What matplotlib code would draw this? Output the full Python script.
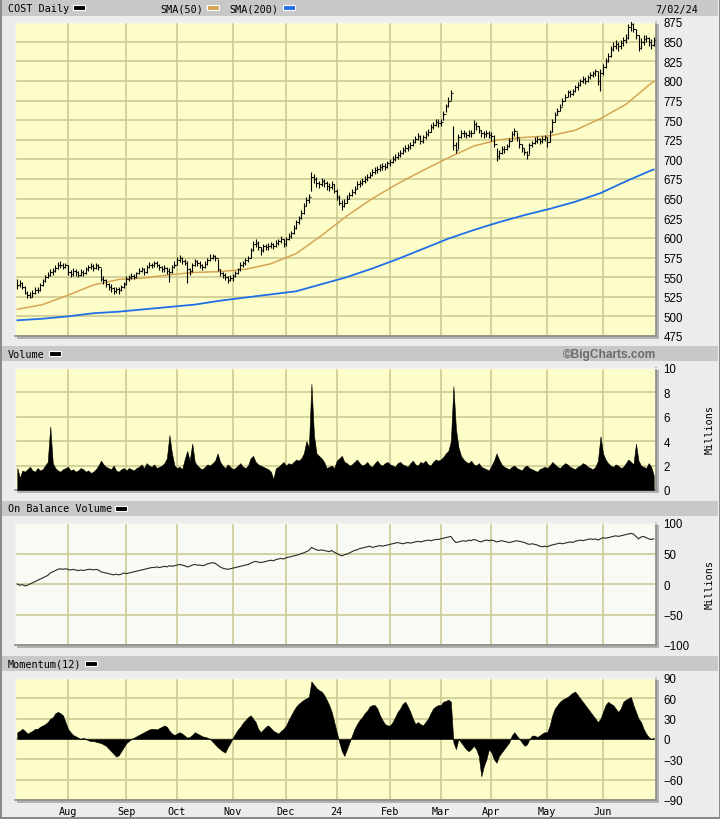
import numpy as np
import pandas as pd
import matplotlib
matplotlib.use("Agg")
import matplotlib.pyplot as plt
from matplotlib.collections import LineCollection
from matplotlib.patches import Rectangle

# ---------------- data ----------------
HOLIDAYS = ['2023-07-04', '2023-09-04', '2023-11-23', '2023-12-25', '2024-01-01',
            '2024-01-15', '2024-02-19', '2024-03-29', '2024-05-27', '2024-06-19']
START, END = '2023-07-03', '2024-07-02'

close_jul = [540, 543, 538, 530, 527, 525, 530, 534, 533, 540, 545, 550, 553, 556, 558, 562, 565, 566, 563, 565]
high_jul = [547, 546, 544, 539, 532, 531, 533, 537, 538, 542, 548, 553, 556, 560, 562, 565, 569, 570, 568, 568]
low_jul = [535, 537, 535, 528, 524, 523, 525, 529, 530, 532, 539, 544, 549, 551, 553, 556, 560, 561, 560, 561]

close_aug = [556, 554, 558, 556, 553, 557, 555, 560, 563, 564, 562, 565, 563, 548, 546, 541, 538, 536, 532, 535, 533, 538, 541]
high_aug = [566, 559, 561, 560, 558, 560, 559, 563, 566, 568, 567, 568, 567, 562, 551, 548, 543, 541, 538, 538, 538, 540, 544]
low_aug = [553, 550, 552, 552, 550, 552, 551, 554, 558, 560, 558, 560, 559, 545, 541, 537, 534, 531, 529, 530, 528, 532, 536]

close_sep = [548, 550, 552, 550, 555, 558, 560, 556, 563, 566, 565, 568, 566, 563, 560, 562, 558, 557, 563, 566]
high_sep = [551, 553, 555, 554, 557, 561, 563, 561, 566, 569, 568, 571, 570, 567, 564, 565, 563, 562, 566, 570]
low_sep = [540, 545, 548, 547, 549, 554, 556, 553, 555, 561, 561, 563, 563, 559, 556, 557, 554, 544, 555, 561]

close_oct = [572, 574, 571, 568, 560, 558, 565, 570, 568, 566, 563, 567, 572, 575, 577, 574, 560, 555, 553, 550, 546, 549]
high_oct = [576, 578, 576, 573, 570, 562, 568, 573, 572, 570, 567, 570, 575, 579, 580, 578, 573, 560, 557, 555, 551, 553]
low_oct = [565, 569, 567, 565, 542, 553, 556, 564, 564, 562, 559, 562, 566, 570, 573, 570, 558, 552, 549, 546, 542, 545]

close_nov = [552, 555, 560, 566, 568, 572, 574, 584, 592, 594, 588, 584, 590, 588, 590, 592, 590, 594, 596, 598, 592]
high_nov = [554, 558, 562, 569, 571, 574, 577, 587, 596, 598, 596, 589, 592, 592, 593, 595, 594, 597, 599, 602, 599]
low_nov = [545, 550, 554, 558, 563, 566, 569, 574, 583, 588, 585, 578, 582, 584, 585, 587, 586, 588, 591, 593, 589]

close_dec = [598, 603, 606, 612, 620, 625, 632, 640, 648, 652, 678, 675, 670, 668, 672, 670, 666, 665, 668, 660]
high_dec = [601, 606, 609, 616, 623, 628, 636, 644, 652, 656, 684, 682, 678, 673, 676, 675, 672, 670, 672, 668]
low_dec = [590, 597, 600, 605, 611, 618, 624, 631, 640, 645, 660, 670, 665, 663, 666, 665, 661, 660, 662, 657]

close_jan = [652, 645, 640, 645, 650, 655, 658, 662, 668, 670, 672, 675, 678, 680, 684, 686, 688, 690, 692, 690, 695]
high_jan = [662, 654, 648, 650, 654, 659, 662, 666, 672, 674, 676, 679, 682, 684, 688, 690, 692, 694, 696, 695, 698]
low_jan = [648, 642, 636, 639, 644, 650, 653, 656, 662, 665, 667, 670, 673, 676, 679, 681, 683, 685, 687, 686, 689]

close_feb = [697, 700, 703, 705, 708, 712, 714, 716, 718, 722, 726, 730, 723, 728, 732, 735, 741, 744, 747, 746]
high_feb = [701, 704, 707, 709, 712, 716, 718, 720, 722, 726, 730, 734, 731, 731, 736, 739, 745, 748, 751, 751]
low_feb = [692, 695, 698, 700, 703, 707, 709, 711, 713, 717, 721, 725, 719, 721, 726, 730, 735, 739, 742, 741]

close_mar = [748, 758, 768, 775, 785, 718, 712, 728, 734, 733, 731, 734, 733, 745, 742, 738, 733, 732, 733, 731]
high_mar = [752, 762, 771, 779, 789, 742, 722, 732, 738, 737, 735, 738, 737, 750, 748, 743, 738, 736, 737, 736]
low_mar = [743, 750, 760, 767, 776, 712, 708, 713, 727, 728, 727, 729, 728, 733, 738, 733, 728, 727, 728, 727]

close_apr = [730, 720, 704, 708, 713, 713, 717, 723, 732, 736, 728, 720, 715, 710, 705, 718, 721, 724, 726, 723, 726, 728]
high_apr = [735, 731, 715, 712, 717, 717, 720, 727, 736, 740, 735, 727, 720, 715, 711, 721, 724, 728, 730, 727, 730, 731]
low_apr = [724, 716, 698, 701, 707, 708, 712, 716, 724, 730, 724, 715, 710, 705, 700, 707, 716, 719, 721, 719, 721, 723]

close_may = [722, 735, 748, 757, 762, 767, 775, 780, 786, 783, 787, 792, 795, 800, 802, 800, 805, 808, 810, 812, 800, 810]
high_may = [728, 738, 751, 760, 766, 770, 778, 783, 789, 788, 790, 795, 798, 803, 806, 805, 808, 811, 813, 815, 812, 815]
low_may = [716, 722, 735, 748, 756, 762, 768, 774, 779, 779, 782, 786, 789, 794, 797, 796, 799, 803, 805, 806, 795, 787]

close_jun = [818, 825, 832, 840, 845, 847, 844, 848, 852, 855, 868, 872, 866, 858, 842, 850, 853, 855, 850]
high_jun = [822, 829, 836, 845, 850, 852, 849, 852, 856, 860, 873, 876, 874, 866, 858, 854, 858, 859, 856]
low_jun = [808, 817, 824, 831, 838, 841, 838, 841, 845, 848, 853, 864, 862, 853, 838, 841, 846, 849, 844]

close_jul24 = [846, 852]
high_jul24 = [853, 856]
low_jul24 = [840, 844]

# volume, millions of shares
vol_jul = [1.8, 1.0, 1.6, 1.5, 1.7, 1.9, 1.6, 1.5, 1.8, 1.6, 1.7, 2.0, 2.3, 5.2, 2.2, 1.8, 1.6, 1.5, 1.7, 1.8]
vol_aug = [1.9, 1.6, 1.7, 1.5, 1.6, 1.8, 1.7, 1.5, 1.6, 1.4, 1.5, 1.7, 2.0, 2.4, 2.1, 1.9, 1.8, 1.7, 2.0, 1.6, 1.5, 1.7, 1.8]
vol_sep = [1.6, 1.8, 1.7, 1.6, 1.8, 1.9, 2.1, 1.8, 2.2, 2.0, 1.9, 2.1, 1.8, 1.9, 2.0, 2.2, 2.6, 4.5, 3.0, 2.0]
vol_oct = [1.8, 1.9, 1.7, 2.5, 3.2, 2.4, 3.8, 2.3, 2.0, 1.8, 1.7, 1.9, 2.1, 2.0, 2.2, 2.4, 3.0, 2.3, 2.0, 1.8, 2.1, 1.9]
vol_nov = [1.7, 1.8, 2.0, 2.2, 1.9, 1.8, 2.0, 2.6, 2.8, 2.3, 2.1, 2.0, 1.9, 1.8, 1.7, 1.5, 0.9, 1.8, 1.9, 2.1, 2.3]
vol_dec = [2.0, 2.2, 2.1, 2.3, 2.5, 2.4, 2.6, 3.0, 4.0, 3.5, 8.7, 4.5, 3.0, 2.8, 2.6, 2.3, 1.8, 1.9, 2.0, 1.8]
vol_jan = [2.4, 2.6, 2.8, 2.3, 2.2, 2.0, 2.1, 2.3, 2.5, 2.2, 2.0, 2.1, 2.3, 2.0, 1.9, 2.2, 2.4, 2.1, 2.0, 2.2, 2.3]
vol_feb = [2.1, 2.0, 1.9, 2.2, 2.3, 2.1, 2.0, 1.9, 2.2, 2.4, 2.1, 2.0, 2.3, 2.2, 2.4, 2.1, 2.0, 2.3, 2.5, 2.4]
vol_mar = [2.5, 2.7, 3.0, 3.2, 4.0, 8.5, 5.0, 3.5, 2.8, 2.5, 2.3, 2.2, 2.4, 2.1, 2.0, 2.2, 1.9, 1.8, 1.7, 1.6]
vol_apr = [2.0, 2.4, 3.0, 2.5, 2.1, 1.9, 1.8, 1.7, 1.9, 2.0, 1.8, 1.7, 1.6, 1.9, 2.0, 1.8, 1.7, 1.6, 1.5, 1.7, 1.8, 1.9]
vol_may = [1.8, 2.0, 2.3, 2.1, 1.9, 1.8, 2.0, 2.2, 2.1, 1.9, 1.8, 1.7, 1.9, 2.0, 2.2, 2.1, 1.9, 1.8, 1.7, 1.9, 2.4, 4.4]
vol_jun = [3.0, 2.5, 2.2, 2.0, 1.9, 2.1, 2.0, 1.8, 1.9, 2.2, 2.5, 2.3, 2.1, 3.8, 2.4, 2.0, 1.9, 1.8, 2.2]
vol_jul24 = [1.9, 1.2]

# on balance volume, millions
obv_jul = [0, -2, -1, -3, -2, 0, 2, 4, 6, 8, 10, 12, 14, 18, 20, 22, 24, 25, 24, 25]
obv_aug = [24, 23, 24, 23, 22, 23, 22, 23, 24, 24, 23, 24, 23, 20, 19, 18, 17, 16, 15, 16, 15, 16, 18]
obv_sep = [17, 18, 19, 20, 21, 22, 23, 24, 25, 26, 27, 27, 28, 27, 28, 29, 28, 30, 29, 30]
obv_oct = [31, 32, 31, 30, 28, 29, 31, 32, 31, 31, 30, 31, 33, 34, 35, 34, 31, 28, 26, 25, 24, 25]
obv_nov = [26, 27, 28, 29, 30, 31, 32, 34, 36, 37, 36, 35, 36, 37, 38, 39, 38, 40, 41, 42, 41]
obv_dec = [43, 44, 45, 46, 47, 48, 50, 51, 53, 55, 60, 58, 56, 55, 56, 55, 54, 53, 55, 52]
obv_jan = [50, 48, 46, 48, 49, 51, 53, 55, 56, 58, 59, 60, 61, 62, 60, 61, 62, 63, 62, 63, 64]
obv_feb = [65, 66, 67, 68, 67, 66, 67, 68, 67, 68, 69, 70, 69, 70, 71, 72, 71, 72, 73, 73]
obv_mar = [74, 75, 76, 77, 78, 72, 68, 69, 70, 71, 70, 72, 71, 73, 72, 70, 69, 71, 72, 71]
obv_apr = [72, 71, 69, 70, 71, 70, 69, 68, 69, 70, 71, 70, 69, 68, 66, 65, 66, 65, 64, 62, 61, 62]
obv_may = [61, 63, 64, 65, 66, 67, 66, 67, 68, 69, 68, 70, 71, 72, 71, 72, 73, 74, 73, 74, 72, 74]
obv_jun = [76, 75, 76, 77, 78, 79, 78, 79, 80, 81, 82, 83, 82, 78, 74, 77, 78, 76, 74]
obv_jul24 = [73, 74]

# momentum (12)
mom_jul = [10, 12, 15, 12, 8, 10, 12, 15, 15, 18, 20, 22, 25, 30, 32, 38, 40, 38, 35, 25]
mom_aug = [15, 10, 6, 4, 2, 0, 2, 0, -2, -3, -3, -4, -5, -6, -8, -10, -14, -18, -22, -26, -24, -18, -12]
mom_sep = [-6, -3, 0, 2, 4, 6, 8, 10, 12, 14, 15, 15, 14, 16, 18, 20, 18, 12, 8, 6]
mom_oct = [8, 10, 8, 5, 2, 3, 6, 10, 8, 6, 4, 3, 2, 0, -4, -8, -12, -15, -18, -20, -12, -6]
mom_nov = [2, 8, 14, 18, 24, 28, 32, 35, 30, 25, 15, 10, 14, 18, 20, 16, 12, 10, 8, 12, 15]
mom_dec = [20, 28, 35, 42, 48, 52, 55, 58, 60, 62, 85, 80, 75, 72, 70, 65, 58, 50, 40, 25]
mom_jan = [10, -5, -18, -25, -15, -5, 5, 15, 22, 28, 32, 38, 42, 48, 50, 50, 45, 35, 28, 22, 20]
mom_feb = [20, 25, 32, 40, 45, 52, 55, 48, 40, 30, 22, 25, 22, 20, 25, 30, 38, 45, 48, 50]
mom_mar = [50, 55, 56, 58, 55, -5, -15, 0, -5, -10, -15, -18, -15, -10, -15, -25, -55, -40, -30, -15]
mom_apr = [-20, -30, -35, -25, -20, -15, -10, -5, 5, 10, 5, 0, -5, -10, -8, 0, 5, 5, 3, 5, 8, 10]
mom_may = [10, 20, 35, 45, 50, 55, 58, 60, 62, 65, 68, 70, 65, 60, 55, 50, 45, 40, 35, 30, 25, 30]
mom_jun = [40, 50, 55, 52, 50, 45, 40, 45, 55, 58, 60, 62, 50, 40, 30, 25, 15, 8, 3]
mom_jul24 = [0, 2]

# moving averages, read every 10th session (plus the last one)
sma50_pts = [509, 515, 527, 540, 547, 549, 553, 556, 557, 560, 567, 580, 603, 628, 650,
             669, 686, 702, 717, 725, 728, 730, 737, 752, 770, 797, 799]
sma200_pts = [495, 497, 500, 504, 506, 509, 512, 515, 520, 524, 528, 532, 541, 550, 561,
              573, 586, 599, 610, 620, 629, 637, 646, 657, 672, 686, 687]

price_ticks = list(range(475, 876, 25))
vol_ticks = [0, 2, 4, 6, 8, 10]
obv_ticks = [-100, -50, 0, 50, 100]
mom_ticks = [-90, -60, -30, 0, 30, 60, 90]
MONTH_NAMES = {1: '24', 2: 'Feb', 3: 'Mar', 4: 'Apr', 5: 'May', 6: 'Jun', 7: 'Jul',
               8: 'Aug', 9: 'Sep', 10: 'Oct', 11: 'Nov', 12: 'Dec'}

# ---------------- assemble ----------------
dates = pd.bdate_range(START, END, freq='C', holidays=HOLIDAYS)
cat = lambda *a: np.concatenate([np.asarray(v, float) for v in a])
close = cat(close_jul, close_aug, close_sep, close_oct, close_nov, close_dec, close_jan,
            close_feb, close_mar, close_apr, close_may, close_jun, close_jul24)
high = cat(high_jul, high_aug, high_sep, high_oct, high_nov, high_dec, high_jan,
           high_feb, high_mar, high_apr, high_may, high_jun, high_jul24)
low = cat(low_jul, low_aug, low_sep, low_oct, low_nov, low_dec, low_jan,
          low_feb, low_mar, low_apr, low_may, low_jun, low_jul24)
vol = cat(vol_jul, vol_aug, vol_sep, vol_oct, vol_nov, vol_dec, vol_jan,
          vol_feb, vol_mar, vol_apr, vol_may, vol_jun, vol_jul24)
obv = cat(obv_jul, obv_aug, obv_sep, obv_oct, obv_nov, obv_dec, obv_jan,
          obv_feb, obv_mar, obv_apr, obv_may, obv_jun, obv_jul24)
mom = cat(mom_jul, mom_aug, mom_sep, mom_oct, mom_nov, mom_dec, mom_jan,
          mom_feb, mom_mar, mom_apr, mom_may, mom_jun, mom_jul24)
n = len(dates)
x = np.arange(n)
sma_x = np.append(x[::10], x[-1])

months = dates.month
mstart = [i for i in range(1, n) if months[i] != months[i - 1]][:-1]
mlabels = [MONTH_NAMES[months[i]] for i in mstart]

# ---------------- styling ----------------
W, H = 720, 820
BG = '#ececec'
PANEL = '#fdfdc9'
PANEL_OBV = '#fafaf4'
GRID = '#cbcb92'
HEAD = '#c8c8c8'
MONO = 'DejaVu Sans Mono'
SANS = 'Liberation Sans'
ORANGE = '#d5a555'
BLUE = '#1f6fe6'

fig = plt.figure(figsize=(W / 100, H / 100), dpi=100, facecolor=BG)


def prect(x0, y0, x1, y1, **kw):
    r = Rectangle((x0 / W, 1 - y1 / H), (x1 - x0) / W, (y1 - y0) / H,
                  transform=fig.transFigure, **kw)
    fig.patches.append(r)
    return r


def ftext(px, py, s, **kw):
    return fig.text(px / W, 1 - py / H, s, **kw)


XL, XR = 15, 656
XLIM = (-0.9, 251.9)


def panel(top, bot, ylim, ticks, face):
    prect(XL + 2, top + 2, XR + 3, bot + 3, facecolor='#b2b2b2', edgecolor='none', zorder=-2)
    ax = fig.add_axes([XL / W, 1 - bot / H, (XR - XL) / W, (bot - top) / H], facecolor=face)
    ax.set_xlim(*XLIM)
    ax.set_ylim(*ylim)
    ax.set_yticks(ticks)
    ax.set_yticklabels([str(t).replace('-', '\u2212') for t in ticks], family=SANS, fontsize=8.3)
    ax.yaxis.tick_right()
    ax.tick_params(axis='y', length=0, pad=5.5, colors='black')
    ax.set_xticks(mstart)
    ax.tick_params(axis='x', length=0, labelbottom=False)
    for t in ticks:
        ax.axhline(t, color=GRID, lw=1.2, zorder=0.5)
    for m in mstart:
        ax.axvline(m, color=GRID, lw=1.2, zorder=0.5)
    ax.grid(False)
    for s in ('top', 'left'):
        ax.spines[s].set_color('#f2f2f2')
        ax.spines[s].set_linewidth(1.0)
    for s in ('bottom', 'right'):
        ax.spines[s].set_color('#8c8c8c')
        ax.spines[s].set_linewidth(1.2)
    return ax


# outer frame and header bars
prect(0, 0, 2, H, facecolor='#8a8a8a', edgecolor='none', zorder=-3)
prect(0, H - 2, W, H, facecolor='#8a8a8a', edgecolor='none', zorder=-3)
prect(W - 1, 0, W, H, facecolor='#8a8a8a', edgecolor='none', zorder=-3)
for (t, b) in [(1, 17), (347, 362), (502, 517), (657, 672)]:
    prect(2, t, W - 2, b, facecolor=HEAD, edgecolor='none', zorder=-3)

# ---- price panel
axp = panel(23, 337, (475, 875), price_ticks, PANEL)
segs = []
for i in range(n):
    segs.append([(x[i], low[i]), (x[i], high[i])])
    segs.append([(x[i], close[i]), (x[i] + 0.5, close[i])])
    if i > 0:
        segs.append([(x[i] - 0.5, close[i - 1]), (x[i], close[i - 1])])
axp.add_collection(LineCollection(segs, colors='black', linewidths=0.8, zorder=3))
axp.plot(sma_x, sma50_pts, color=ORANGE, lw=1.1, zorder=2)
axp.plot(sma_x, sma200_pts, color=BLUE, lw=1.3, zorder=2)

# ---- volume panel
axv = panel(369, 491, (0, 10), vol_ticks, PANEL)
axv.fill_between(x, 0, vol, color='black', lw=0.4, zorder=3)

# ---- OBV panel
axo = panel(524, 646, (-100, 100), obv_ticks, PANEL_OBV)
axo.plot(x, obv, color='#2a2a2a', lw=0.8, zorder=3)

# ---- momentum panel
axm = panel(679, 801, (-90, 90), mom_ticks, PANEL)
axm.fill_between(x, 0, mom, color='black', lw=0.4, zorder=3)
axm.tick_params(axis='x', labelbottom=True, pad=4)
axm.set_xticklabels(mlabels, family=MONO, fontsize=7.3)

# ---- header texts
hk = dict(family=MONO, fontsize=7.3, va='center', ha='left', color='black')
ftext(8, 9.5, 'COST Daily', **hk)
prect(72.5, 6, 84.5, 11, facecolor='black', edgecolor='white', lw=0.8, zorder=2)
ftext(160, 9.5, 'SMA(50)', **hk)
prect(207, 6, 219, 11, facecolor=ORANGE, edgecolor='white', lw=0.8, zorder=2)
ftext(229, 9.5, 'SMA(200)', **hk)
prect(282.5, 6, 294.5, 11, facecolor=BLUE, edgecolor='white', lw=0.8, zorder=2)
ftext(698, 9.5, '7/02/24', **dict(hk, ha='right'))

ftext(8, 354.5, 'Volume', **hk)
prect(48.5, 351.5, 60.5, 356.5, facecolor='black', edgecolor='white', lw=0.8, zorder=2)
ftext(656, 354.5, '\u00a9BigCharts.com', family=SANS, fontsize=8.6, weight='bold',
      color='#6c6c6c', ha='right', va='center')

ftext(8, 509.5, 'On Balance Volume', **hk)
prect(114.5, 506.5, 126.5, 511.5, facecolor='black', edgecolor='white', lw=0.8, zorder=2)

ftext(8, 664.5, 'Momentum(12)', **hk)
prect(84.5, 661.5, 96.5, 666.5, facecolor='black', edgecolor='white', lw=0.8, zorder=2)

ftext(710, 430, 'Millions', family=MONO, fontsize=7.3, rotation=90, ha='center', va='center')
ftext(710, 585, 'Millions', family=MONO, fontsize=7.3, rotation=90, ha='center', va='center')

fig.savefig('out.png', dpi=100, facecolor=BG)
